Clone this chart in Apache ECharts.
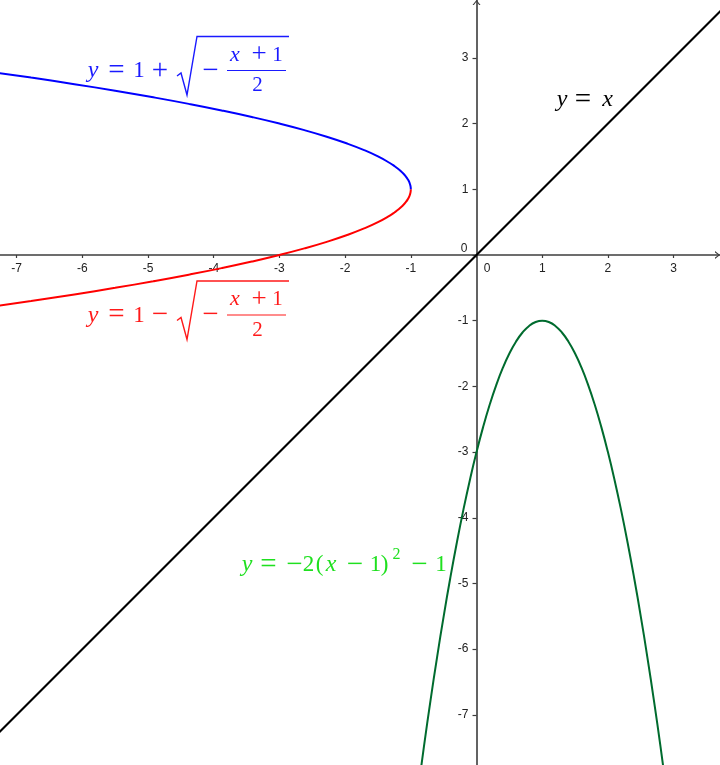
<!DOCTYPE html>
<html><head><meta charset="utf-8">
<script src="https://cdn.jsdelivr.net/npm/echarts@6/dist/echarts.min.js"></script>
<style>html,body{margin:0;padding:0;background:#fff}#chart{width:720px;height:765px}</style>
</head><body><div id="chart"></div>
<script>
// axis ranges and ticks
const xRange = [-7.253, 3.706];
const yRange = [-7.763, 3.881];
const xTicks = [-7, -6, -5, -4, -3, -2, -1, 0, 1, 2, 3];
const yTicks = [-7, -6, -5, -4, -3, -2, -1, 0, 1, 2, 3];
const xTickLabels = [-7, -6, -5, -4, -3, -2, -1, 1, 2, 3];
const yTickLabels = [-7, -6, -5, -4, -3, -2, -1, 1, 2, 3];

// sideways parabola x = -1 - 2(y-1)^2, split into upper (blue) and lower (red) branches
const branchX = [-1, -1.005, -1.02, -1.045, -1.08, -1.125, -1.18, -1.245, -1.32, -1.5, -1.72, -1.98, -2.28, -2.62, -3, -3.42, -3.88, -4.38, -4.92, -5.5, -6.12, -6.78, -7.48];
const blueY = [1, 1.05, 1.1, 1.15, 1.2, 1.25, 1.3, 1.35, 1.4, 1.5, 1.6, 1.7, 1.8, 1.9, 2, 2.1, 2.2, 2.3, 2.4, 2.5, 2.6, 2.7, 2.8];
const redY = [1, 0.95, 0.9, 0.85, 0.8, 0.75, 0.7, 0.65, 0.6, 0.5, 0.4, 0.3, 0.2, 0.1, 0, -0.1, -0.2, -0.3, -0.4, -0.5, -0.6, -0.7, -0.8];

// y = x
const identityX = [-8, 4];
const identityY = [-8, 4];

// y = -2(x-1)^2 - 1
const greenX = [-0.9, -0.8, -0.7, -0.6, -0.5, -0.4, -0.3, -0.2, -0.1, 0, 0.1, 0.2, 0.3, 0.4, 0.5, 0.6, 0.7, 0.8, 0.9, 1, 1.1, 1.2, 1.3, 1.4, 1.5, 1.6, 1.7, 1.8, 1.9, 2, 2.1, 2.2, 2.3, 2.4, 2.5, 2.6, 2.7, 2.8, 2.9];
const greenY = [-8.22, -7.48, -6.78, -6.12, -5.5, -4.92, -4.38, -3.88, -3.42, -3, -2.62, -2.28, -1.98, -1.72, -1.5, -1.32, -1.18, -1.08, -1.02, -1, -1.02, -1.08, -1.18, -1.32, -1.5, -1.72, -1.98, -2.28, -2.62, -3, -3.42, -3.88, -4.38, -4.92, -5.5, -6.12, -6.78, -7.48, -8.22];

const zip = (xs, ys) => xs.map((x, i) => [x, ys[i]]);

const W = 720, H = 765;
const AXIS_COLOR = '#3c3c3c';
const LABEL_FONT = 'Liberation Sans';
const SERIF = 'Liberation Serif';
const arrowPath = 'path://M0,5 L4,0 L8,5 L6.6,5 L4,1.6 L1.4,5 Z';

// place the axes through the origin (offsets derived from the ranges)
const xAxisOffset = -((0 - yRange[0]) / (yRange[1] - yRange[0])) * H;
const yAxisOffset = -((0 - xRange[0]) / (xRange[1] - xRange[0])) * W;

const IT = 24, DG = 23, OP = 29, OPDY = 0;

function g(ch, cx, cy, color, size, italic) {
  return { type: 'text', x: cx, y: cy, silent: true, z: 100,
    style: { text: ch, fill: color, fontFamily: SERIF, fontSize: size, fontStyle: italic ? 'italic' : 'normal',
      align: 'center', verticalAlign: 'middle' } };
}
function pl(points, color, w) {
  return { type: 'polyline', silent: true, z: 100, shape: { points: points },
    style: { stroke: color, lineWidth: w, fill: null } };
}
function sqrtLabel(color, dy, opChar) {
  return [
    g('y', 93, 71 + dy, color, IT, true),
    g('=', 116.5, 71 + dy + OPDY, color, OP, false),
    g('1', 139, 71 + dy, color, DG, false),
    g(opChar, 160, 71 + dy + OPDY, color, OP, false),
    pl([[177, 76 + dy], [181, 73 + dy], [187, 95 + dy], [197, 36.5 + dy], [289, 36.5 + dy]], color, 1.4),
    g('\u2212', 210.5, 71 + dy + OPDY, color, OP, false),
    g('x', 235, 55 + dy, color, 22, true),
    g('+', 259, 55 + dy + OPDY, color, 27, false),
    g('1', 277.5, 55 + dy, color, 21, false),
    pl([[227, 70.5 + dy], [286, 70.5 + dy]], color, 1.2),
    g('2', 257.5, 85.5 + dy, color, 21, false)
  ];
}

const chart = echarts.init(document.getElementById('chart'), null, { renderer: 'canvas' });

const GC = '#1fe01f';
const graphics = [].concat(
  sqrtLabel('#1a1aff', 0, '+'),
  sqrtLabel('#ff1a1a', 244.5, '\u2212'),
  [
    g('y', 562, 100, '#000', IT, true),
    g('=', 583, 100 + OPDY, '#000', OP, false),
    g('x', 607.5, 100, '#000', IT, true),

    g('y', 247, 565, GC, IT, true),
    g('=', 268.5, 565 + OPDY, GC, OP, false),
    g('\u2212', 294.5, 565 + OPDY, GC, OP, false),
    g('2', 308.5, 565, GC, DG, false),
    g('(', 319.5, 565, GC, DG, false),
    g('x', 331, 565, GC, IT, true),
    g('\u2212', 355, 565 + OPDY, GC, OP, false),
    g('1', 375.5, 565, GC, DG, false),
    g(')', 384.5, 565, GC, DG, false),
    g('2', 396.5, 555, GC, 16, false),
    g('\u2212', 419.5, 565 + OPDY, GC, OP, false),
    g('1', 441, 565, GC, DG, false),

    { type: 'text', x: 464, y: 248.5, silent: true, z: 100,
      style: { text: '0', fill: '#222', fontFamily: LABEL_FONT, fontSize: 12, align: 'center', verticalAlign: 'middle' } },
    { type: 'text', x: 487, y: 269, silent: true, z: 100,
      style: { text: '0', fill: '#222', fontFamily: LABEL_FONT, fontSize: 12, align: 'center', verticalAlign: 'middle' } }
  ]
);

const option = {
  animation: false,
  backgroundColor: '#fff',
  grid: { left: 0, right: 0, top: 0, bottom: 0, containLabel: false, outerBoundsMode: 'none' },
  xAxis: {
    type: 'value', min: xRange[0], max: xRange[1], position: 'bottom', offset: xAxisOffset,
    splitLine: { show: false },
    axisLine: { onZero: false, symbol: ['none', arrowPath], symbolSize: [8, 5], symbolOffset: [0, -2.5],
      lineStyle: { color: AXIS_COLOR, width: 1.6 } },
    axisTick: { show: true, inside: false, length: 3, customValues: xTicks, lineStyle: { color: AXIS_COLOR, width: 1.2 } },
    axisLabel: { customValues: xTickLabels, margin: 8, color: '#222', fontFamily: LABEL_FONT, fontSize: 12 }
  },
  yAxis: {
    type: 'value', min: yRange[0], max: yRange[1], position: 'left', offset: yAxisOffset,
    splitLine: { show: false },
    axisLine: { onZero: false, symbol: ['none', arrowPath], symbolSize: [8, 5], symbolOffset: [0, -2.5],
      lineStyle: { color: AXIS_COLOR, width: 1.6 } },
    axisTick: { show: true, inside: false, length: 4, customValues: yTicks, lineStyle: { color: AXIS_COLOR, width: 1.2 } },
    axisLabel: { customValues: yTickLabels, margin: 8, color: '#222', fontFamily: LABEL_FONT, fontSize: 12 }
  },
  series: [
    { type: 'line', data: zip(branchX, redY), showSymbol: false, smooth: true, lineStyle: { color: '#ff0000', width: 2 }, z: 3 },
    { type: 'line', data: zip(branchX, blueY), showSymbol: false, smooth: true, lineStyle: { color: '#0000ff', width: 2 }, z: 3 },
    { type: 'line', data: zip(identityX, identityY), showSymbol: false, lineStyle: { color: '#000000', width: 2 }, z: 3 },
    { type: 'line', data: zip(greenX, greenY), showSymbol: false, smooth: true, lineStyle: { color: '#006b2e', width: 2 }, z: 3 }
  ],
  graphic: graphics
};
chart.setOption(option);
</script>
</body></html>
